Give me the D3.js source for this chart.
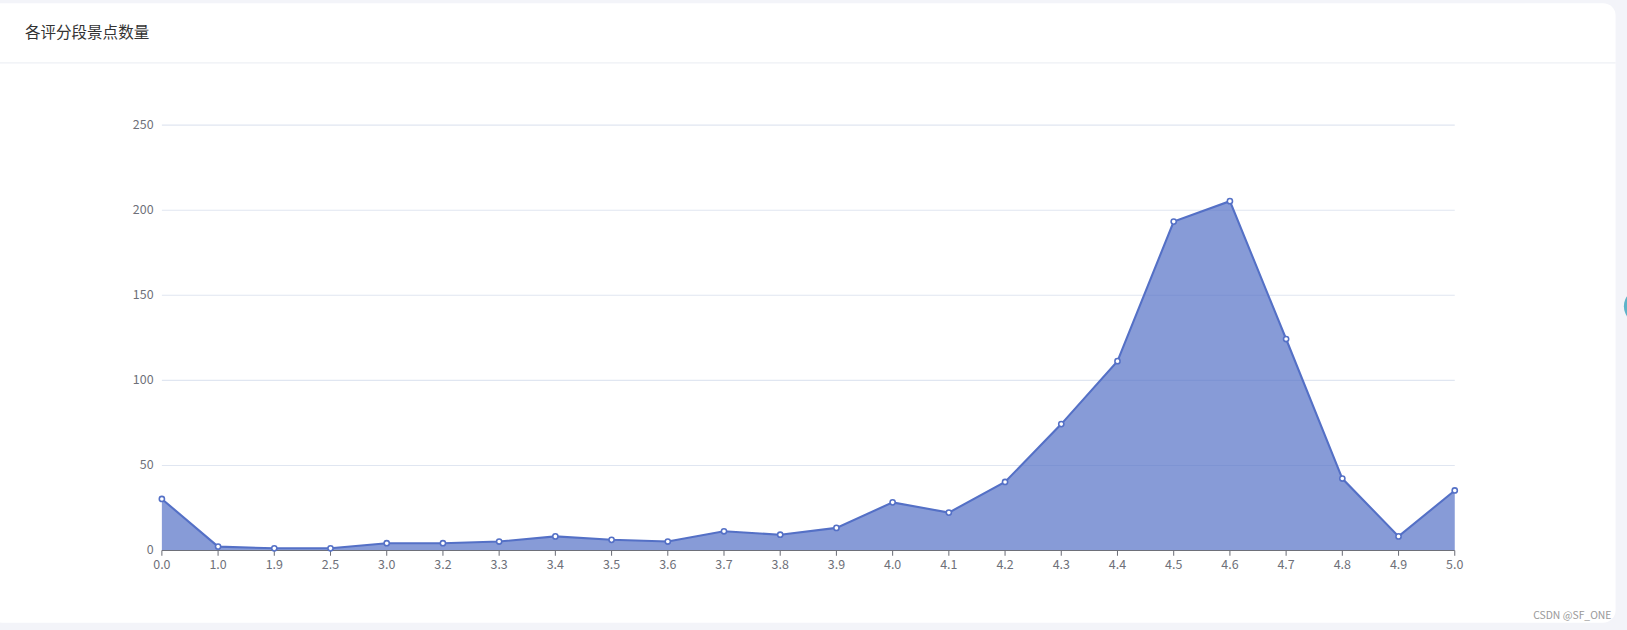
<!DOCTYPE html>
<html><head><meta charset="utf-8">
<script src="https://cdn.jsdelivr.net/npm/d3@7"></script>
<style>
body{margin:0;background:#f3f4f9;font-family:"Microsoft YaHei","Noto Sans CJK SC",sans-serif;}
svg{display:block;}
</style></head>
<body><svg id="c" width="1627" height="630" viewBox="0 0 1568 607"></svg>
<script>
const categories = ['0.0','1.0','1.9','2.5','3.0','3.2','3.3','3.4','3.5','3.6','3.7','3.8','3.9','4.0','4.1','4.2','4.3','4.4','4.5','4.6','4.7','4.8','4.9','5.0'];
const counts = [30,2,1,1,4,4,5,8,6,5,11,9,13,28,22,40,74,111,193,205,124,42,8,35];
const yTicks = [0,50,100,150,200,250];

const svg = d3.select('#c');
// card
svg.append('rect').attr('x',-10).attr('y',3).attr('width',1567).attr('height',597).attr('rx',12).attr('fill','#fff');
svg.append('line').attr('x1',0).attr('x2',1557).attr('y1',60.5).attr('y2',60.5).attr('stroke','#eef0f5');
svg.append('text').attr('x',24).attr('y',37).text('各评分段景点数量').attr('font-size',15).attr('fill','#333');
svg.append('circle').attr('cx',1582).attr('cy',295).attr('r',17).attr('fill','#5fb3c9');
svg.append('text').attr('x',1553).attr('y',596).attr('text-anchor','end').text('CSDN @SF_ONE').attr('font-size',10).attr('fill','#999');

const x = d3.scalePoint().domain(categories).range([156,1402]);
const y = d3.scaleLinear().domain([0,250]).range([530,120]);

// grid
svg.append('g').selectAll('line').data(yTicks.slice(1)).join('line')
  .attr('x1',156).attr('x2',1402).attr('y1',d=>y(d)+0.5).attr('y2',d=>y(d)+0.5).attr('stroke','#e0e6f1');
svg.append('g').selectAll('text').data(yTicks).join('text')
  .attr('x',148).attr('y',d=>y(d)+4).attr('text-anchor','end').text(d=>d)
  .attr('font-size',12).attr('fill','#6e7079');

const data = categories.map((c,i)=>({c,v:counts[i]}));
svg.append('path').datum(data).attr('fill','#5470c6').attr('fill-opacity',0.7)
  .attr('d',d3.area().x(d=>x(d.c)).y0(y(0)).y1(d=>y(d.v)));
svg.append('path').datum(data).attr('fill','none').attr('stroke','#5470c6').attr('stroke-width',2)
  .attr('d',d3.line().x(d=>x(d.c)).y(d=>y(d.v)));

// x axis
const xa = svg.append('g').attr('transform','translate(0,530.5)');
xa.append('line').attr('x1',156).attr('x2',1402).attr('stroke','#6e7079');
xa.selectAll('.t').data(categories).join('line').attr('x1',d=>x(d)).attr('x2',d=>x(d)).attr('y2',5).attr('stroke','#6e7079');
xa.selectAll('text').data(categories).join('text').attr('x',d=>x(d)).attr('y',18).attr('text-anchor','middle')
  .text(d=>d).attr('font-size',12).attr('fill','#6e7079');

svg.append('g').selectAll('circle').data(data).join('circle')
  .attr('cx',d=>x(d.c)).attr('cy',d=>y(d.v)).attr('r',2.5)
  .attr('fill','#fff').attr('stroke','#5470c6').attr('stroke-width',1.5);
</script></body></html>
